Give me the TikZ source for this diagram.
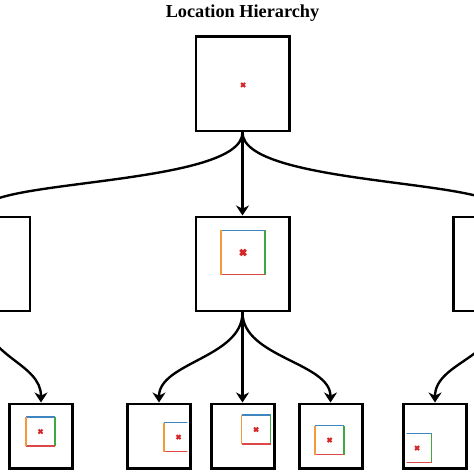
\documentclass[tikz,border=0pt]{standalone}
\usepackage{fontspec}
\setmainfont{Liberation Serif}
\usetikzlibrary{arrows.meta}
\usetikzlibrary{positioning}
\definecolor{tabblue}{HTML}{3F86C0}
\definecolor{tabgreen}{HTML}{40A840}
\definecolor{tabred}{HTML}{D62728}
\definecolor{taborange}{HTML}{F59A3C}
\tikzset{
    big box/.style={rectangle,draw,line width=1.7pt,minimum width=1.86cm,minimum height=1.88cm},
    small box/.style={rectangle,draw,line width=1.7pt,minimum width=1.26cm,minimum height=1.28cm},
    side/.style={-,line width=0.7pt},
    spot/.style={-,tabred,line width=1.2pt},
}
% red cross at the centre of the current scope
\newcommand{\spotmark}[1]{\draw[spot] (-#1,-#1) -- (#1,#1) (-#1,#1) -- (#1,-#1);}
% coloured sub-region inside a box: box, dx, dy, half side, half mark
\newcommand{\region}[5]{%
  \begin{scope}
    \clip ([shift={(0.09,0.09)}]#1.south west) rectangle ([shift={(-0.09,-0.09)}]#1.north east);
    \begin{scope}[shift={(#1.center)},xshift=#2cm,yshift=#3cm]
      \draw[side,tabblue] (-#4,#4) -- (#4,#4);
      \draw[side,tabgreen] (#4,#4) -- (#4,-#4);
      \draw[side,tabred!85] (#4,-#4) -- (-#4,-#4);
      \draw[side,taborange] (-#4,-#4) -- (-#4,#4);
      \spotmark{#5}
    \end{scope}
  \end{scope}}
\begin{document}
\begin{tikzpicture}[->,>={Stealth[length=2mm,width=2.6mm]},line width=1.35pt]
		\useasboundingbox (0,0) rectangle (9.48,-9.48);
		\node[font=\bfseries\fontsize{10.4}{12}\selectfont] (title) at (4.85,-0.26) {Location Hierarchy};
		\node[big box] (root) at (4.85,-1.68) {};
		\node[big box, node distance=3.6cm] (m) [below of=root] {};
		\node[big box, node distance=5.18cm] (ml) [left of=m] {};
		\node[big box, node distance=5.14cm] (mr) [right of=m] {};
		\node[small box, node distance=3.44cm] (b3) [below of=m] {};
		\node[small box, node distance=1.67cm] (b2) [left of=b3] {};
		\node[small box, node distance=1.76cm] (b4) [right of=b3] {};
		\node[small box, node distance=3.44cm] (b1) [below of=ml, xshift=1.15cm] {};
		\node[small box, node distance=3.44cm] (b5) [below of=mr, xshift=-1.29cm] {};

		% markers and sub-regions
		\begin{scope}[shift={(root.center)},xshift=0.01cm,yshift=-0.02cm]
			\spotmark{0.04}
		\end{scope}
		\begin{scope}[spot/.append style={line width=1.7pt}]
			\region{m}{0.01}{0.23}{0.44}{0.055}
		\end{scope}
		\region{b1}{-0.01}{0.09}{0.29}{0.04}
		\region{b2}{0.39}{-0.02}{0.29}{0.04}
		\region{b3}{0.27}{0.13}{0.29}{0.04}
		\region{b4}{-0.02}{-0.08}{0.29}{0.04}
		\region{b5}{-0.36}{-0.24}{0.29}{0.04}

		\path
			(root) edge (m)
				edge [out=-90,in=90,out distance=1.06cm,in distance=0.72cm] (ml)
				edge [out=-90,in=90,out distance=1.06cm,in distance=0.72cm] (mr)
			(m) edge (b3)
				edge [out=-90,in=90,out distance=0.9cm,in distance=0.8cm] (b2)
				edge [out=-90,in=90,out distance=0.9cm,in distance=0.8cm] (b4)
			(ml) edge [out=-90,in=90,out distance=0.9cm,in distance=0.8cm] (b1)
			(mr) edge [out=-90,in=90,out distance=0.9cm,in distance=0.8cm] (b5);
	\end{tikzpicture}
\end{document}
